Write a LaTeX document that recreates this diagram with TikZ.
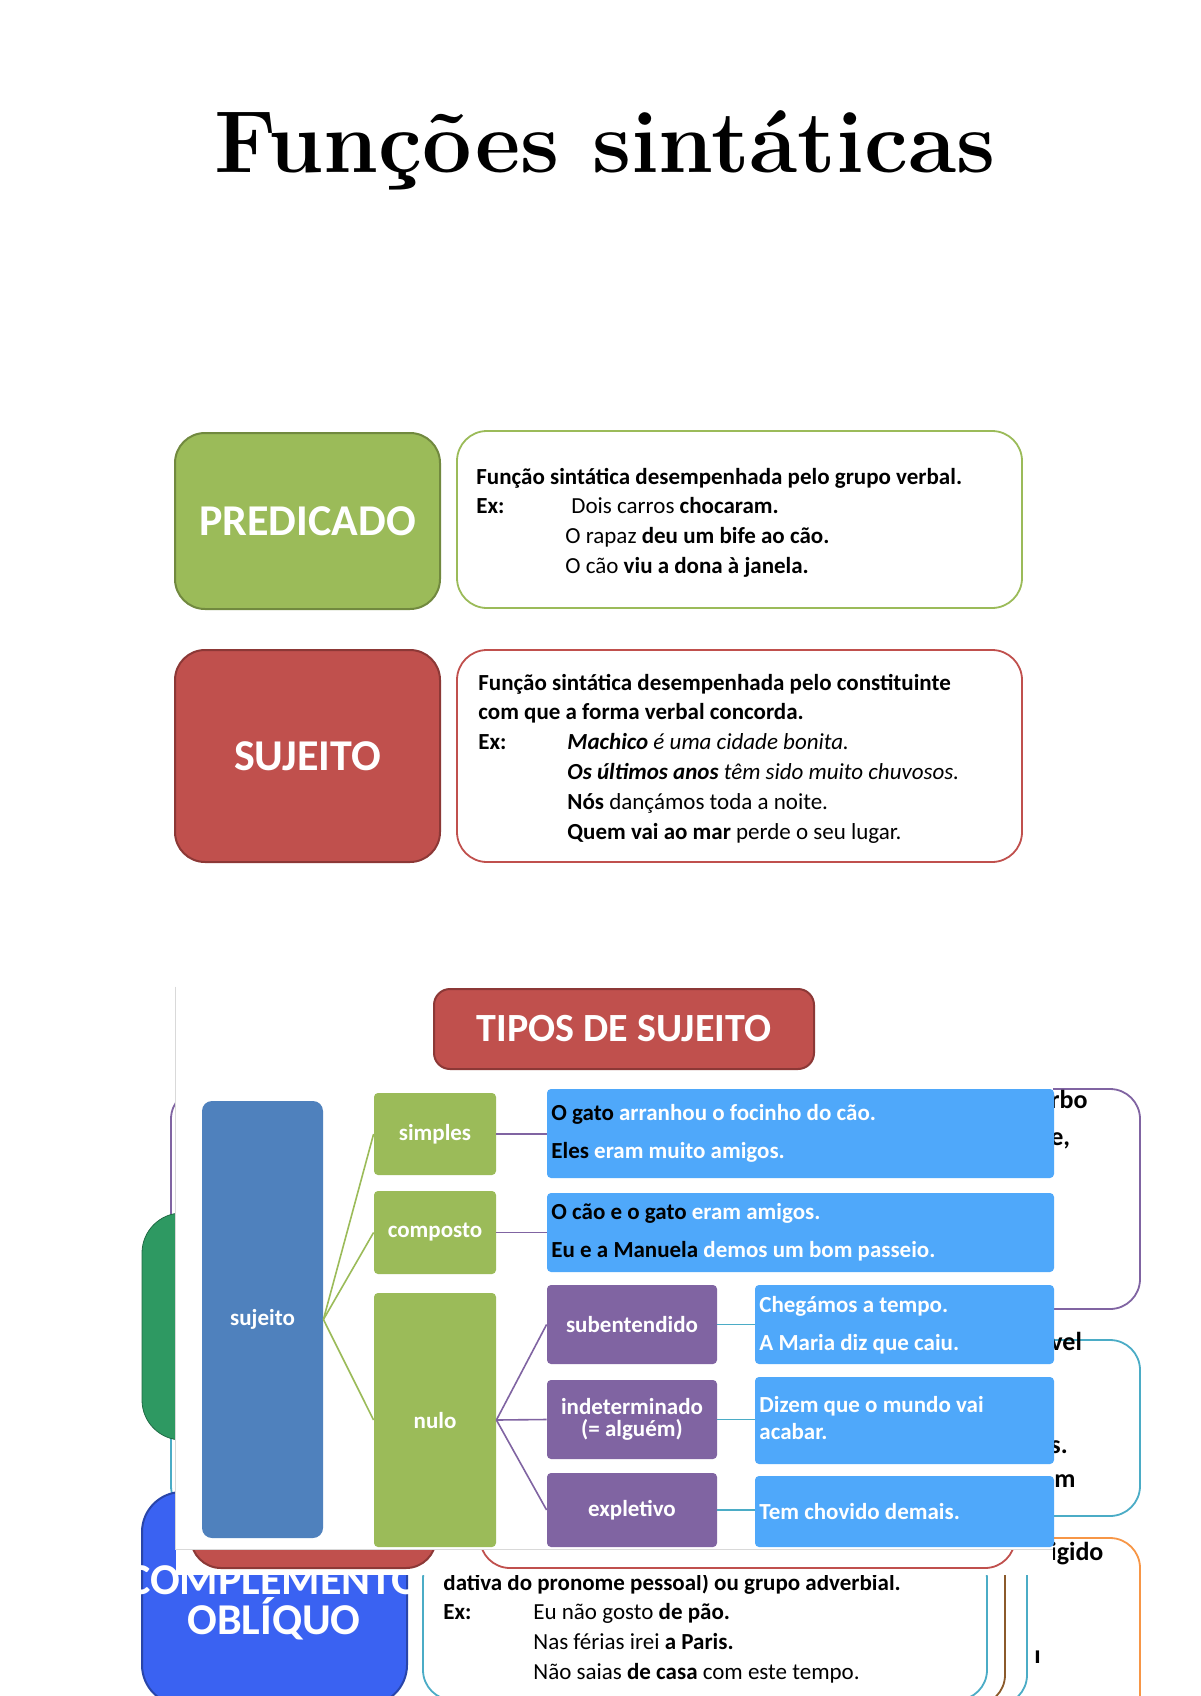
\documentclass[tikz,border=0pt]{standalone}
\usepackage{fontspec}
\setsansfont{Carlito}
\definecolor{gr}{HTML}{9BBB59}\definecolor{grd}{HTML}{71893F}
\definecolor{rd}{HTML}{C0504D}\definecolor{rdd}{HTML}{8C3836}
\definecolor{bl}{HTML}{4F81BD}\definecolor{pu}{HTML}{8064A2}
\definecolor{lb}{HTML}{4FA8FA}\definecolor{te}{HTML}{4BACC6}
\definecolor{orn}{HTML}{F79646}\definecolor{dg}{HTML}{2E9962}
\definecolor{cb}{HTML}{3A62F2}\definecolor{br}{HTML}{8B5A2B}
\newcommand{\bx}[7]{\node[#2,minimum width={(#5-#3)*0.5pt},minimum height={(#6-#4)*0.5pt},inner sep=0pt] (#1) at ({(#3+#5)/2},{(#4+#6)/2}) {#7};}
\tikzset{
 txt/.style={anchor=base west,inner sep=0pt,font=\sffamily\fontsize{11.5}{13}\selectfont},
 otx/.style={anchor=base west,inner sep=0pt,font=\sffamily\bfseries\fontsize{11.5}{13}\selectfont,text=white},
 big/.style={text=white,font=\sffamily\bfseries\fontsize{22}{24}\selectfont},
 lab/.style={text=white,font=\sffamily\bfseries\fontsize{11.5}{13}\selectfont,align=center},
 gbox/.style={fill=gr,draw=grd,line width=1pt,rounded corners=15pt},
 rbox/.style={fill=rd,draw=rdd,line width=1pt,rounded corners=15pt},
 obox/.style={draw=#1,line width=0.9pt,rounded corners=15pt,fill=white},
 sbox/.style={fill=#1,rounded corners=2pt},
 gl/.style={draw=gr,line width=0.8pt},
 pl/.style={draw=pu,line width=0.8pt},
 tl/.style={draw=te,line width=0.8pt},
}
\begin{document}
\begin{tikzpicture}[x=0.5pt,y=-0.5pt]
\useasboundingbox (0,0) rectangle (1200,1696);
\clip (0,0) rectangle (1200,1696);
\node[inner sep=0pt,font=\fontsize{44}{48}\bfseries\selectfont] (title) at (605,150) {Funções sintáticas};
% predicado
\bx{pred}{gbox,big}{175}{433}{440}{609}{PREDICADO}
\bx{predt}{obox=gr}{457}{431}{1022}{608}{}
\node[txt] (p1) at (476,484) {\bfseries Função sintática desempenhada pelo grupo verbal.};
\node[txt] (p2) at (476,513) {\bfseries Ex:};
\node[txt] (p3) at (571,513) {Dois carros \textbf{chocaram.}};
\node[txt] (p4) at (565,543) {O rapaz \textbf{deu um bife ao cão.}};
\node[txt] (p5) at (565,573) {O cão \textbf{viu a dona à janela.}};
% sujeito
\bx{suj}{rbox,big}{175}{650}{440}{862}{SUJEITO}
\bx{sujt}{obox=rd}{457}{650}{1022}{862}{}
\node[txt] (s1) at (478,690) {\bfseries Função sintática desempenhada pelo constituinte};
\node[txt] (s2) at (478,719) {\bfseries com que a forma verbal concorda.};
\node[txt] (s3) at (478,749) {\bfseries Ex:};
\node[txt] (s4) at (567,749) {\itshape\textbf{Machico} é uma cidade bonita.};
\node[txt] (s5) at (567,779) {\itshape\textbf{Os últimos anos} têm sido muito chuvosos.};
\node[txt] (s6) at (567,809) {\textbf{Nós} dançámos toda a noite.};
\node[txt] (s7) at (567,839) {\textbf{Quem vai ao mar} perde o seu lugar.};
% background layers
\bx{bpu}{obox=pu}{171}{1089}{1140}{1309}{}
\bx{bte}{obox=te}{171}{1340}{1140}{1516}{}
\bx{bor}{obox=orn}{171}{1538}{1140}{1760}{}
\bx{bgr}{fill=dg,draw=dg!70!black,rounded corners=20pt}{142}{1213}{330}{1440}{}
\node[txt,font=\sffamily\bfseries\fontsize{13}{15}\selectfont] (f1) at (1050,1108) {rbo};
\node[txt,font=\sffamily\bfseries\fontsize{13}{15}\selectfont] (f2) at (1050,1145) {e,};
\node[txt,font=\sffamily\bfseries\fontsize{13}{15}\selectfont] (f3) at (1050,1350) {vel};
\node[txt,font=\sffamily\bfseries\fontsize{13}{15}\selectfont] (f4) at (1050,1453) {s.};
\node[txt,font=\sffamily\bfseries\fontsize{13}{15}\selectfont] (f5) at (1054,1487) {m};
\node[txt,font=\sffamily\bfseries\fontsize{13}{15}\selectfont] (f6) at (1050,1560) {igido};
\node[txt,font=\sffamily\bfseries\fontsize{13}{15}\selectfont] (f7) at (1034,1663) {ı};
\bx{bbr}{obox=br}{430}{1545}{1005}{1705}{}
\bx{bte2}{draw=te,line width=0.9pt,rounded corners=15pt}{430}{1545}{1027}{1705}{}
\bx{co}{fill=cb,draw=cb!70!black,line width=1pt,rounded corners=20pt}{142}{1492}{407}{1705}{}
\node[big] (co1) at (274,1580) {COMPLEMENTO};
\node[big] (co2) at (274,1619) {OBLÍQUO};
\bx{cot}{obox=te}{423}{1549}{987}{1700}{}
\node[txt] (c1) at (443,1590) {\bfseries dativa do pronome pessoal) ou grupo adverbial.};
\node[txt] (c2) at (443,1619) {\bfseries Ex:};
\node[txt] (c3) at (533,1619) {Eu não gosto \textbf{de pão.}};
\node[txt] (c4) at (533,1649) {Nas férias irei \textbf{a Paris.}};
\node[txt] (c5) at (533,1679) {Não saias \textbf{de casa} com este tempo.};
\fill[white] (176,1540) rectangle (1053,1575);
\begin{scope}
\clip (0,1549) rectangle (1200,1600);
\bx{rb1}{rbox}{191}{1400}{436}{1568}{}
\bx{rb2}{obox=rd}{480}{1400}{1015}{1568}{}
\end{scope}
% overlay
\bx{ov}{fill=white}{176}{987}{1053}{1549}{}
\draw[black!15,line width=0.6pt] (ov.north west) -- (ov.south west) -- (ov.south east);
\bx{tip}{rbox,rounded corners=8pt,big,font=\sffamily\bfseries\fontsize{20}{22}\selectfont}{434}{989}{814}{1069}{TIPOS DE SUJEITO}
\bx{sj}{sbox=bl,lab,rounded corners=5pt}{202}{1101}{323}{1538}{sujeito}
\bx{si}{sbox=gr,lab}{374}{1093}{496}{1175}{simples}
\bx{cp}{sbox=gr,lab}{374}{1191}{496}{1274}{composto}
\bx{nu}{sbox=gr,lab}{374}{1293}{496}{1547}{nulo}
\bx{e1}{sbox=lb}{547}{1089}{1054}{1178}{}
\bx{e2}{sbox=lb}{547}{1193}{1054}{1272}{}
\bx{sb}{sbox=pu,lab}{547}{1285}{717}{1364}{subentendido}
\bx{in}{sbox=pu,lab}{547}{1380}{717}{1459}{indeterminado\\[-2pt](= alguém)}
\bx{ex}{sbox=pu,lab}{547}{1473}{717}{1547}{expletivo}
\bx{e3}{sbox=lb}{755}{1285}{1054}{1364}{}
\bx{e4}{sbox=lb}{755}{1377}{1054}{1464}{}
\bx{e5}{sbox=lb}{755}{1476}{1054}{1547}{}
\node[otx] (t1) at (551,1120) {\color{black}O gato \color{white}arranhou o focinho do cão.};
\node[otx] (t2) at (551,1158) {\color{black}Eles \color{white}eram muito amigos.};
\node[otx] (t3) at (551,1219) {\color{black}O cão e o gato \color{white}eram amigos.};
\node[otx] (t4) at (551,1257) {\color{black}Eu e a Manuela \color{white}demos um bom passeio.};
\node[otx] (t5) at (759,1312) {Chegámos a tempo.};
\node[otx] (t6) at (759,1350) {A Maria diz que caiu.};
\node[otx] (t7) at (759,1412) {Dizem que o mundo vai};
\node[otx] (t8) at (759,1439) {acabar.};
\node[otx] (t9) at (759,1519) {Tem chovido demais.};
\draw[gl] (sj.east) -- (si.west);
\draw[gl] (sj.east) -- (cp.west);
\draw[gl] (sj.east) -- (nu.west);
\draw[pl] (si.east) -- (e1.west|-si.east);
\draw[pl] (cp.east) -- (e2.west|-cp.east);
\draw[pl] (nu.east) -- (sb.west);
\draw[pl] (nu.east) -- (in.west);
\draw[pl] (nu.east) -- (ex.west);
\draw[tl] (sb.east) -- (e3.west|-sb.east);
\draw[tl] (in.east) -- (e4.west|-in.east);
\draw[tl] (ex.east) -- (e5.west|-ex.east);
\end{tikzpicture}
\end{document}
